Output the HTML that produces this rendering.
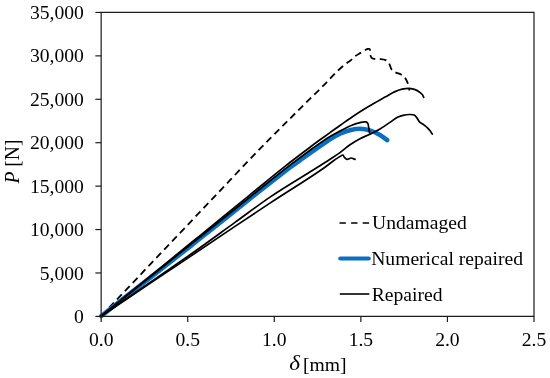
<!DOCTYPE html>
<html><head><meta charset="utf-8"><title>P-delta chart</title>
<style>
html,body{margin:0;padding:0;background:#fff;}
svg{display:block;}
text{font-family:"Liberation Serif",serif;font-size:19.6px;fill:#000;}
</style></head><body>
<svg width="550" height="378" viewBox="0 0 550 378">
<rect x="0" y="0" width="550" height="378" fill="#fff"/>

<g fill="none" stroke-linejoin="round">
<path d="M101.3,316.0 C117.5,298.9 133.8,281.7 150.0,264.6 C166.7,247.0 183.3,229.5 200.0,211.9 C210.0,201.3 220.0,190.8 230.0,180.2 C239.5,170.2 249.0,160.1 258.6,150.2" stroke="#000" stroke-width="1.8" stroke-dasharray="6.917 4.511"/>
<path d="M258.6,150.2 C268.0,140.6 277.5,131.1 287.0,121.6 C297.9,110.7 308.9,99.8 320.0,89.0 C328.8,80.4 336.6,70.6 346.5,63.3 C348.0,62.2 349.6,61.3 351.0,60.1 C352.4,58.9 353.6,57.4 355.0,56.3 C356.7,55.0 358.7,54.0 360.6,52.9 C361.9,52.1 363.2,51.1 364.6,50.4 C365.5,49.9 366.5,49.2 367.5,49.0 C368.2,48.9 369.1,48.7 369.6,49.0 C370.3,49.4 369.9,51.0 370.0,52.0 C370.1,53.0 370.0,54.1 370.3,55.1 C370.6,56.0 370.9,57.2 371.6,57.8 C372.3,58.5 373.6,58.7 374.6,58.9 C376.1,59.2 377.7,58.9 379.2,59.0 C381.4,59.2 383.7,59.2 385.7,60.1 C386.5,60.5 387.4,60.9 388.0,61.5 C388.5,62.1 388.8,62.9 389.2,63.6 C390.2,65.5 390.5,67.8 391.7,69.6 C392.1,70.2 392.6,70.9 393.2,71.4 C393.8,71.9 394.6,72.1 395.3,72.4 C397.2,73.2 399.2,73.7 401.1,74.5 C401.9,74.9 402.9,75.1 403.6,75.7 C404.3,76.3 404.7,77.2 405.2,78.0 C406.2,79.6 407.0,81.3 407.7,83.1 C408.6,85.5 408.9,88.0 409.5,90.5" stroke="#000" stroke-width="1.8" stroke-dasharray="6.8 4.45"/>
<path d="M101.3,316.0 C109.2,309.7 117.1,303.4 125.0,297.2 C133.3,290.7 141.7,284.4 150.0,277.9 C166.7,264.9 183.4,251.8 200.0,238.6 C216.7,225.4 233.3,211.9 250.0,198.7 C260.0,190.8 269.9,182.8 280.0,175.1 C283.3,172.6 286.6,170.0 290.0,167.5 C293.3,165.1 296.7,162.7 300.0,160.3 C303.3,157.9 306.7,155.6 310.0,153.2 C313.3,150.9 316.7,148.5 320.0,146.2 C323.3,143.9 326.6,141.4 330.0,139.3 C333.2,137.3 336.5,135.3 340.0,133.7 C343.2,132.3 346.6,131.0 350.0,130.2 C353.3,129.4 356.7,128.8 360.0,128.8 C363.3,128.8 366.8,129.4 370.0,130.4 C373.5,131.4 376.9,133.1 380.0,135.0 C382.5,136.5 384.8,138.4 387.2,140.1" stroke="#0a6fc2" stroke-width="4.5" stroke-linecap="round"/>
<path d="M101.3,316.0 C117.5,302.8 133.8,289.5 150.0,276.3 C166.7,262.7 183.3,249.1 200.0,235.6 C216.7,222.0 233.3,208.4 250.0,194.8 C261.7,185.3 273.2,175.6 285.0,166.3 C293.2,159.8 301.6,153.5 310.0,147.2 C313.3,144.7 316.7,142.2 320.0,139.8 C323.3,137.4 326.7,135.0 330.0,132.6 C333.3,130.2 336.7,127.9 340.0,125.5 C343.3,123.2 346.6,120.8 350.0,118.5 C353.3,116.2 356.6,114.0 360.0,111.8 C364.9,108.6 369.9,105.6 375.0,102.7 C378.3,100.8 381.7,99.0 385.0,97.1 C388.3,95.3 391.5,93.1 395.0,91.6 C397.3,90.6 399.7,89.6 402.1,89.1 C404.4,88.6 406.9,88.2 409.2,88.3 C411.2,88.4 413.3,88.8 415.2,89.6 C417.0,90.3 418.7,91.4 420.2,92.6 C421.1,93.3 422.1,94.1 422.7,95.1 C423.1,95.8 423.4,96.6 423.7,97.3" stroke="#000" stroke-width="1.7" stroke-linecap="round"/>
<path d="M101.3,316.0 C117.5,303.0 133.8,290.0 150.0,277.1 C166.7,263.7 183.3,250.4 200.0,237.1 C216.7,223.8 233.3,210.4 250.0,197.1 C263.3,186.5 276.4,175.5 290.0,165.1 C296.6,160.1 303.3,155.1 310.0,150.2 C313.3,147.8 316.6,145.4 320.0,143.1 C323.3,140.9 326.6,138.6 330.0,136.6 C333.3,134.6 336.6,132.9 340.0,131.1 C343.3,129.3 346.6,127.4 350.0,126.0 C353.2,124.6 356.6,123.3 360.0,122.6 C361.5,122.3 363.0,121.9 364.5,121.9 C365.2,121.9 365.9,121.7 366.5,122.0 C367.0,122.3 367.5,122.9 367.8,123.4 C368.4,124.4 368.4,125.8 368.6,127.0 C369.0,129.0 369.3,131.0 369.6,133.0" stroke="#000" stroke-width="1.7" stroke-linecap="round"/>
<path d="M101.3,316.0 C117.5,304.8 133.8,293.6 150.0,282.4 C165.0,272.0 180.1,261.8 195.0,251.3 C208.4,241.8 221.7,232.0 235.0,222.4 C246.7,214.0 258.1,205.2 270.0,197.1 C287.9,184.9 306.9,174.3 325.0,162.5 C330.0,159.2 335.2,156.1 340.0,152.6 C343.4,150.1 346.5,147.2 350.0,144.8 C353.2,142.6 356.5,140.5 360.0,138.7 C363.2,137.0 366.7,135.8 370.0,134.2 C373.4,132.6 376.8,130.9 380.0,129.0 C383.4,127.0 386.7,124.6 390.0,122.4 C392.7,120.6 395.1,118.3 398.0,117.0 C399.6,116.3 401.3,115.7 403.0,115.3 C405.3,114.8 407.7,114.4 410.0,114.5 C411.4,114.5 413.0,114.4 414.2,115.0 C415.2,115.5 415.9,116.7 416.7,117.6 C417.8,119.0 418.4,120.8 419.7,122.1 C420.9,123.3 422.8,124.0 424.2,125.1 C425.2,125.9 426.3,126.7 427.2,127.6 C428.3,128.7 429.4,129.9 430.3,131.1 C431.0,132.1 431.6,133.1 432.3,134.1" stroke="#000" stroke-width="1.7" stroke-linecap="round"/>
<path d="M101.3,316.0 C117.5,305.1 133.8,294.3 150.0,283.4 C165.0,273.4 180.0,263.4 195.0,253.3 C208.3,244.3 221.6,235.3 235.0,226.4 C246.6,218.6 258.3,210.8 270.0,203.1 C288.3,191.0 307.1,179.8 325.0,167.2 C330.0,163.7 334.6,159.4 340.0,156.5 C341.0,156.0 342.2,154.7 343.0,155.0 C343.6,155.2 343.8,156.7 344.4,157.4 C345.1,158.2 346.1,159.2 347.0,159.4 C348.2,159.7 349.7,158.0 351.0,158.0 C352.3,158.0 353.7,158.9 355.0,159.4" stroke="#000" stroke-width="1.7" stroke-linecap="round"/>
</g>
<g stroke="#1c1c1c" stroke-width="1.2" fill="none" stroke-linecap="square">
<path d="M101.15,12.45 H534.0 V316.4 H101.15 Z"/>
<line x1="95.35" y1="316.40" x2="101.15" y2="316.40" stroke-linecap="butt"/>
<line x1="95.35" y1="272.98" x2="101.15" y2="272.98" stroke-linecap="butt"/>
<line x1="95.35" y1="229.56" x2="101.15" y2="229.56" stroke-linecap="butt"/>
<line x1="95.35" y1="186.14" x2="101.15" y2="186.14" stroke-linecap="butt"/>
<line x1="95.35" y1="142.71" x2="101.15" y2="142.71" stroke-linecap="butt"/>
<line x1="95.35" y1="99.29" x2="101.15" y2="99.29" stroke-linecap="butt"/>
<line x1="95.35" y1="55.87" x2="101.15" y2="55.87" stroke-linecap="butt"/>
<line x1="95.35" y1="12.45" x2="101.15" y2="12.45" stroke-linecap="butt"/>
<line x1="101.15" y1="316.4" x2="101.15" y2="322.00" stroke-linecap="butt"/>
<line x1="187.72" y1="316.4" x2="187.72" y2="322.00" stroke-linecap="butt"/>
<line x1="274.29" y1="316.4" x2="274.29" y2="322.00" stroke-linecap="butt"/>
<line x1="360.86" y1="316.4" x2="360.86" y2="322.00" stroke-linecap="butt"/>
<line x1="447.43" y1="316.4" x2="447.43" y2="322.00" stroke-linecap="butt"/>
<line x1="534.00" y1="316.4" x2="534.00" y2="322.00" stroke-linecap="butt"/>
</g>
<text x="83.8" y="322.9" text-anchor="end">0</text>
<text x="83.8" y="279.5" text-anchor="end">5,000</text>
<text x="83.8" y="236.1" text-anchor="end">10,000</text>
<text x="83.8" y="192.6" text-anchor="end">15,000</text>
<text x="83.8" y="149.2" text-anchor="end">20,000</text>
<text x="83.8" y="105.8" text-anchor="end">25,000</text>
<text x="83.8" y="62.4" text-anchor="end">30,000</text>
<text x="83.8" y="18.9" text-anchor="end">35,000</text>
<text x="101.2" y="346.1" text-anchor="middle">0.0</text>
<text x="187.7" y="346.1" text-anchor="middle">0.5</text>
<text x="274.3" y="346.1" text-anchor="middle">1.0</text>
<text x="360.9" y="346.1" text-anchor="middle">1.5</text>
<text x="447.4" y="346.1" text-anchor="middle">2.0</text>
<text x="534.0" y="346.1" text-anchor="middle">2.5</text>
<text transform="translate(19.2,161.5) rotate(-90) scale(1,1.09)" text-anchor="middle"><tspan font-style="italic">P</tspan> [N]</text>
<text transform="translate(289.2,369.8) scale(1.08,1)" style="font-size:21.4px;font-style:italic">δ</text>
<text x="303" y="370.6">[mm]</text>
<line x1="339.5" y1="223" x2="369.1" y2="223" stroke="#000" stroke-width="1.7" stroke-dasharray="6.4 5.2"/>
<text x="372.1" y="229.4">Undamaged</text>
<line x1="340.3" y1="258.5" x2="368.7" y2="258.5" stroke="#0a6fc2" stroke-width="4.2" stroke-linecap="round"/>
<text x="371.2" y="264.7">Numerical repaired</text>
<line x1="339.8" y1="294" x2="369.3" y2="294" stroke="#000" stroke-width="1.6"/>
<text x="371.8" y="300.6">Repaired</text>
</svg></body></html>
